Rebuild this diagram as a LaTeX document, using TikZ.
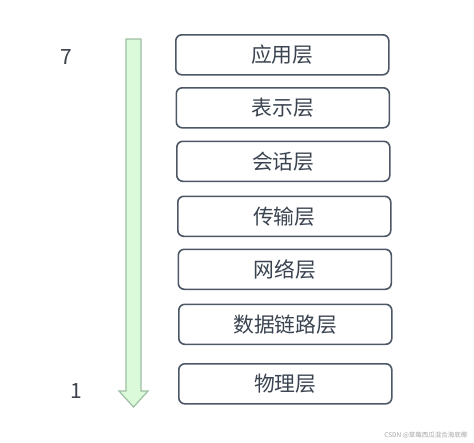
\documentclass[tikz,border=0pt]{standalone}
\usepackage{fontspec}
\setmainfont{Noto Sans CJK SC}
\newfontfamily\cjk{Noto Sans CJK SC}
\begin{document}
\begin{tikzpicture}[x=1pt,y=-1pt,
  layer/.style={draw=boxline, line width=1.6pt, rounded corners=6pt, fill=white,
    minimum width=213pt, minimum height=40pt, inner sep=0pt, font=\cjk\fontsize{20.8}{21}\selectfont, text=txt, anchor=north west},
  num/.style={font=\cjk\fontsize{21}{22}\selectfont, text=numc}]
\definecolor{boxline}{HTML}{4D5766}
\definecolor{txt}{HTML}{3A4350}
\definecolor{numc}{HTML}{3C434D}
\definecolor{arrfill}{HTML}{DAFADA}
\definecolor{arrline}{HTML}{9DBFA2}
\useasboundingbox (0,0) rectangle (474,442);
\fill[white] (0,0) rectangle (474,442);
% arrow
\draw[fill=arrfill, draw=arrline, line width=1.2pt]
  (126,39) -- (141,39) -- (141,391) -- (148,391) -- (133.5,407) -- (119,391) -- (126,391) -- cycle;
\node[num] (n7) at (66,57) {7};
\node[num] (n1) at (76,391) {1};
\node[layer] (l7) at (175,34) {应用层};
\node[layer] (l6) at (175.5,87) {表示层};
\node[layer] (l5) at (176,140.5) {会话层};
\node[layer] (l4) at (177,195.5) {传输层};
\node[layer] (l3) at (177.5,248.5) {网络层};
\node[layer] (l2) at (178,303.5) {数据链路层};
\node[layer] (l1) at (178,363) {物理层};
\node[font=\cjk\fontsize{6.5}{7}\selectfont, text=black!35, anchor=east] (wm) at (471,435) {CSDN @草莓西瓜混合海底椰};
\end{tikzpicture}
\end{document}
